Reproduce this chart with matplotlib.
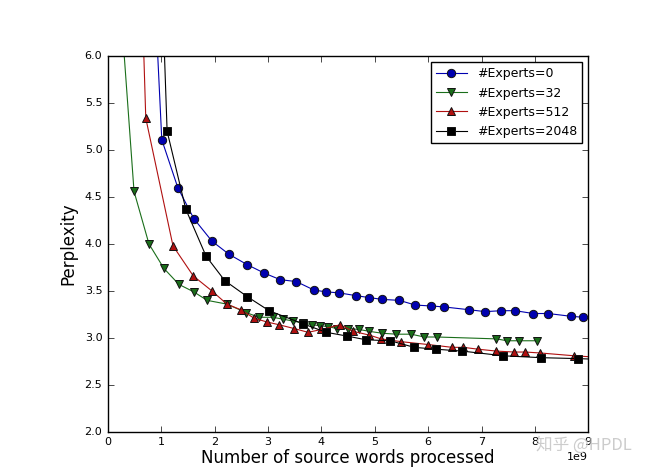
import matplotlib
matplotlib.use('Agg')
import matplotlib.pyplot as plt

plt.style.use('classic')

# x in units of 1e9 words; first point of each curve lies above the plot (no marker drawn),
# red/black have a trailing point beyond the right edge (no marker)
x0 = [0.85, 1.01, 1.31, 1.61, 1.95, 2.27, 2.61, 2.93, 3.23, 3.53, 3.86, 4.09, 4.33, 4.65, 4.89,
      5.14, 5.46, 5.76, 6.06, 6.3, 6.77, 7.07, 7.37, 7.63, 7.97, 8.25, 8.68, 8.91]
y0 = [7.0, 5.11, 4.60, 4.27, 4.03, 3.89, 3.78, 3.69, 3.62, 3.60, 3.51, 3.49, 3.48, 3.45, 3.43,
      3.41, 3.40, 3.35, 3.34, 3.33, 3.30, 3.28, 3.29, 3.29, 3.26, 3.26, 3.23, 3.22]

x32 = [0.18, 0.49, 0.77, 1.05, 1.33, 1.61, 1.86, 2.23, 2.59, 2.83, 3.09, 3.28, 3.47, 3.65, 3.83,
       3.98, 4.13, 4.29, 4.5, 4.71, 4.9, 5.14, 5.4, 5.68, 5.93, 6.17, 7.28, 7.48, 7.71, 8.04]
y32 = [7.0, 4.56, 4.00, 3.74, 3.57, 3.49, 3.40, 3.36, 3.27, 3.22, 3.22, 3.20, 3.18, 3.16, 3.14,
       3.13, 3.12, 3.10, 3.10, 3.09, 3.07, 3.05, 3.04, 3.04, 3.01, 3.01, 2.99, 2.97, 2.97, 2.97]

x512 = [0.62, 0.71, 1.22, 1.6, 1.95, 2.23, 2.49, 2.74, 2.98, 3.21, 3.49, 3.75, 4.0, 4.35, 4.6,
        4.9, 5.12, 5.5, 6.0, 6.45, 6.66, 6.94, 7.28, 7.61, 7.82, 8.1, 8.74, 9.3]
y512 = [7.0, 5.34, 3.98, 3.66, 3.50, 3.36, 3.30, 3.21, 3.17, 3.14, 3.10, 3.06, 3.09, 3.14, 3.07,
        3.03, 2.99, 2.96, 2.93, 2.90, 2.90, 2.88, 2.86, 2.85, 2.85, 2.84, 2.81, 2.79]

x2048 = [1.0, 1.11, 1.46, 1.84, 2.19, 2.61, 3.02, 3.66, 4.09, 4.48, 4.84, 5.29, 5.74, 6.15, 6.64,
         7.41, 8.12, 8.81, 9.3]
y2048 = [7.0, 5.20, 4.37, 3.87, 3.61, 3.44, 3.29, 3.15, 3.06, 3.02, 2.98, 2.97, 2.90, 2.88, 2.86,
         2.81, 2.79, 2.78, 2.77]

scale = 1e9

fig = plt.figure(figsize=(6.7, 4.71), dpi=100, facecolor='white')
ax = fig.add_axes([0.161, 0.083, 0.717, 0.798])

style = dict(markersize=6, linewidth=0.8, markeredgecolor='#111111', markeredgewidth=0.7)
ax.plot([v * scale for v in x0], y0, '-o', color='#0000b0', markevery=slice(1, None), label='#Experts=0', **style)
ax.plot([v * scale for v in x32], y32, '-v', color='#1a6e1a', markevery=slice(1, None), label='#Experts=32', **style)
ax.plot([v * scale for v in x512], y512, '-^', color='#b01010', markevery=slice(1, -1), label='#Experts=512', **style)
ax.plot([v * scale for v in x2048], y2048, '-s', color='black', markevery=slice(1, -1), label='#Experts=2048', **style)

ax.set_xlim(0, 9e9)
ax.set_ylim(2.0, 6.0)
ax.set_xlabel('Number of source words processed', fontsize=12, labelpad=1)
ax.set_ylabel('Perplexity', fontsize=12)
ax.tick_params(labelsize=8)
ax.xaxis.get_offset_text().set_fontsize(8)
ax.legend(loc='upper right', fontsize=9, numpoints=1, handlelength=2.5)

fig.text(0.80, 0.045, '知乎 @HPDL', fontsize=12, color='#cccccc',
         family=['Noto Sans CJK SC', 'DejaVu Sans'])

plt.savefig('out.png', dpi=100, facecolor='white')
